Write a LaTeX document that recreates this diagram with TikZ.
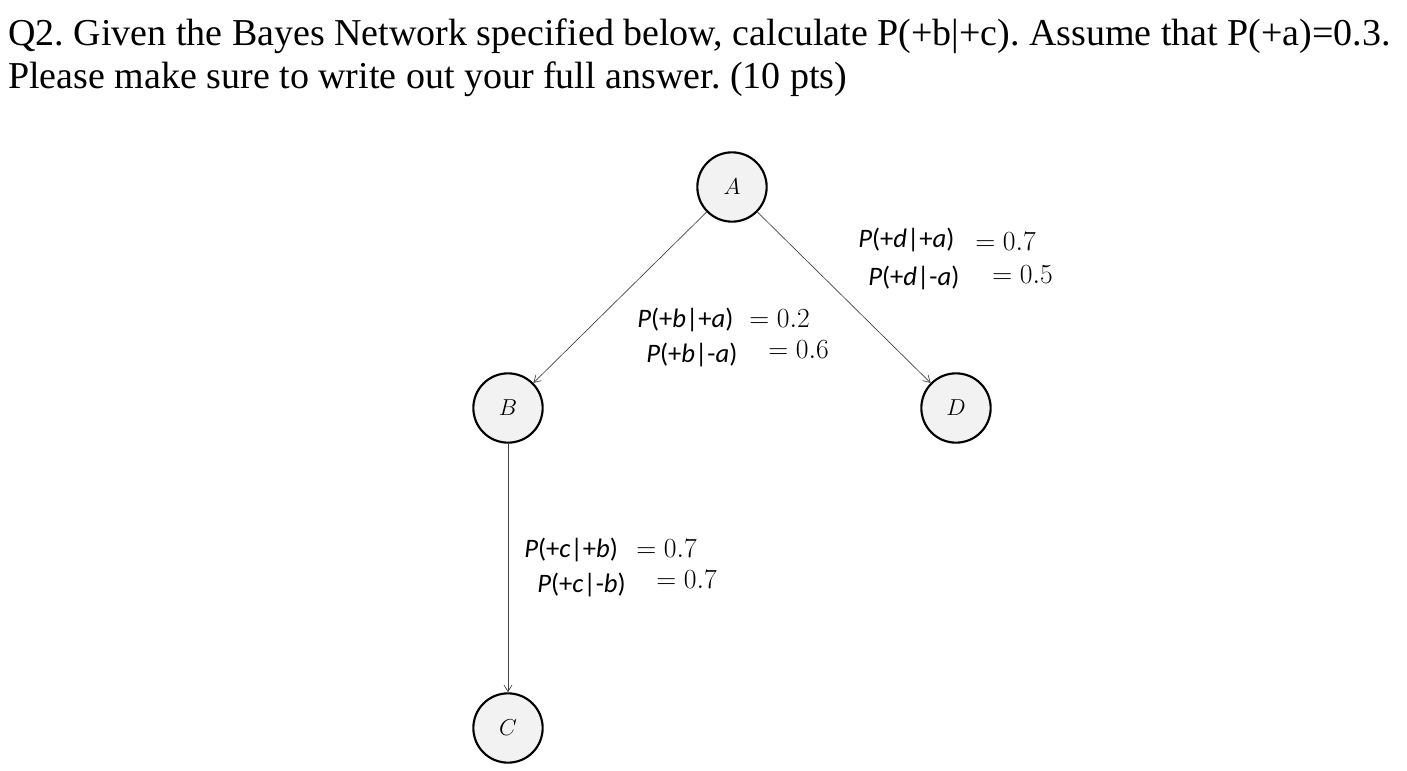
\documentclass[tikz,border=0pt]{standalone}
\usepackage{fontspec}
\setmainfont{Liberation Serif}
\newfontfamily\lblfont{Carlito}
\usetikzlibrary{arrows.meta}
\frenchspacing
\begin{document}
\begin{tikzpicture}[x=0.75pt,y=-0.75pt,
  bn/.style={circle,draw,line width=1.6pt,fill=gray!10,minimum size=52pt,inner sep=0pt,font=\fontsize{18}{18}\selectfont},
  edge/.style={draw=black!75,line width=0.5pt,-{Straight Barb[length=5pt,width=6pt]}},
  lbl/.style={anchor=base west,inner sep=0pt,font=\lblfont\fontsize{20}{20}\selectfont},
  val/.style={anchor=base west,inner sep=0pt,font=\fontsize{19.5}{19.5}\selectfont}]
\useasboundingbox (0,0) rectangle (1407,771);
\node[anchor=base west,inner sep=0pt,font=\fontsize{28.5}{28.5}\selectfont] (t1) at (8,45) {Q2. Given the Bayes Network specified below, calculate P(+b|+c). Assume that P(+a)=0.3.};
\node[anchor=base west,inner sep=0pt,font=\fontsize{28.5}{28.5}\selectfont] (t2) at (8,88) {Please make sure to write out your full answer. (10 pts)};
\node[bn] (A) at (732,187) {$A$};
\node[bn] (B) at (508,408) {$B$};
\node[bn] (D) at (956,408) {$D$};
\node[bn] (C) at (508,728) {$C$};
\draw[edge] (A) -- (B);
\draw[edge] (A) -- (D);
\draw[edge] (B) -- (C);
\node[lbl] (l1) at (858,247) {\textit{P}(+\textit{d}|+\textit{a})};
\node[val] (v1) at (975,250) {$=0.7$};
\node[lbl] (l2) at (868,285) {\textit{P}(+\textit{d}|-\textit{a})};
\node[val] (v2) at (992,283) {$=0.5$};
\node[lbl] (l3) at (637,327) {\textit{P}(+\textit{b}|+\textit{a})};
\node[val] (v3) at (749,327) {$=0.2$};
\node[lbl] (l4) at (646,362) {\textit{P}(+\textit{b}|-\textit{a})};
\node[val] (v4) at (768,358) {$=0.6$};
\node[lbl] (l5) at (524,557) {\textit{P}(+\textit{c}|+\textit{b})};
\node[val] (v5) at (636,557) {$=0.7$};
\node[lbl] (l6) at (537,592) {\textit{P}(+\textit{c}|-\textit{b})};
\node[val] (v6) at (656,588) {$=0.7$};
\end{tikzpicture}
\end{document}
